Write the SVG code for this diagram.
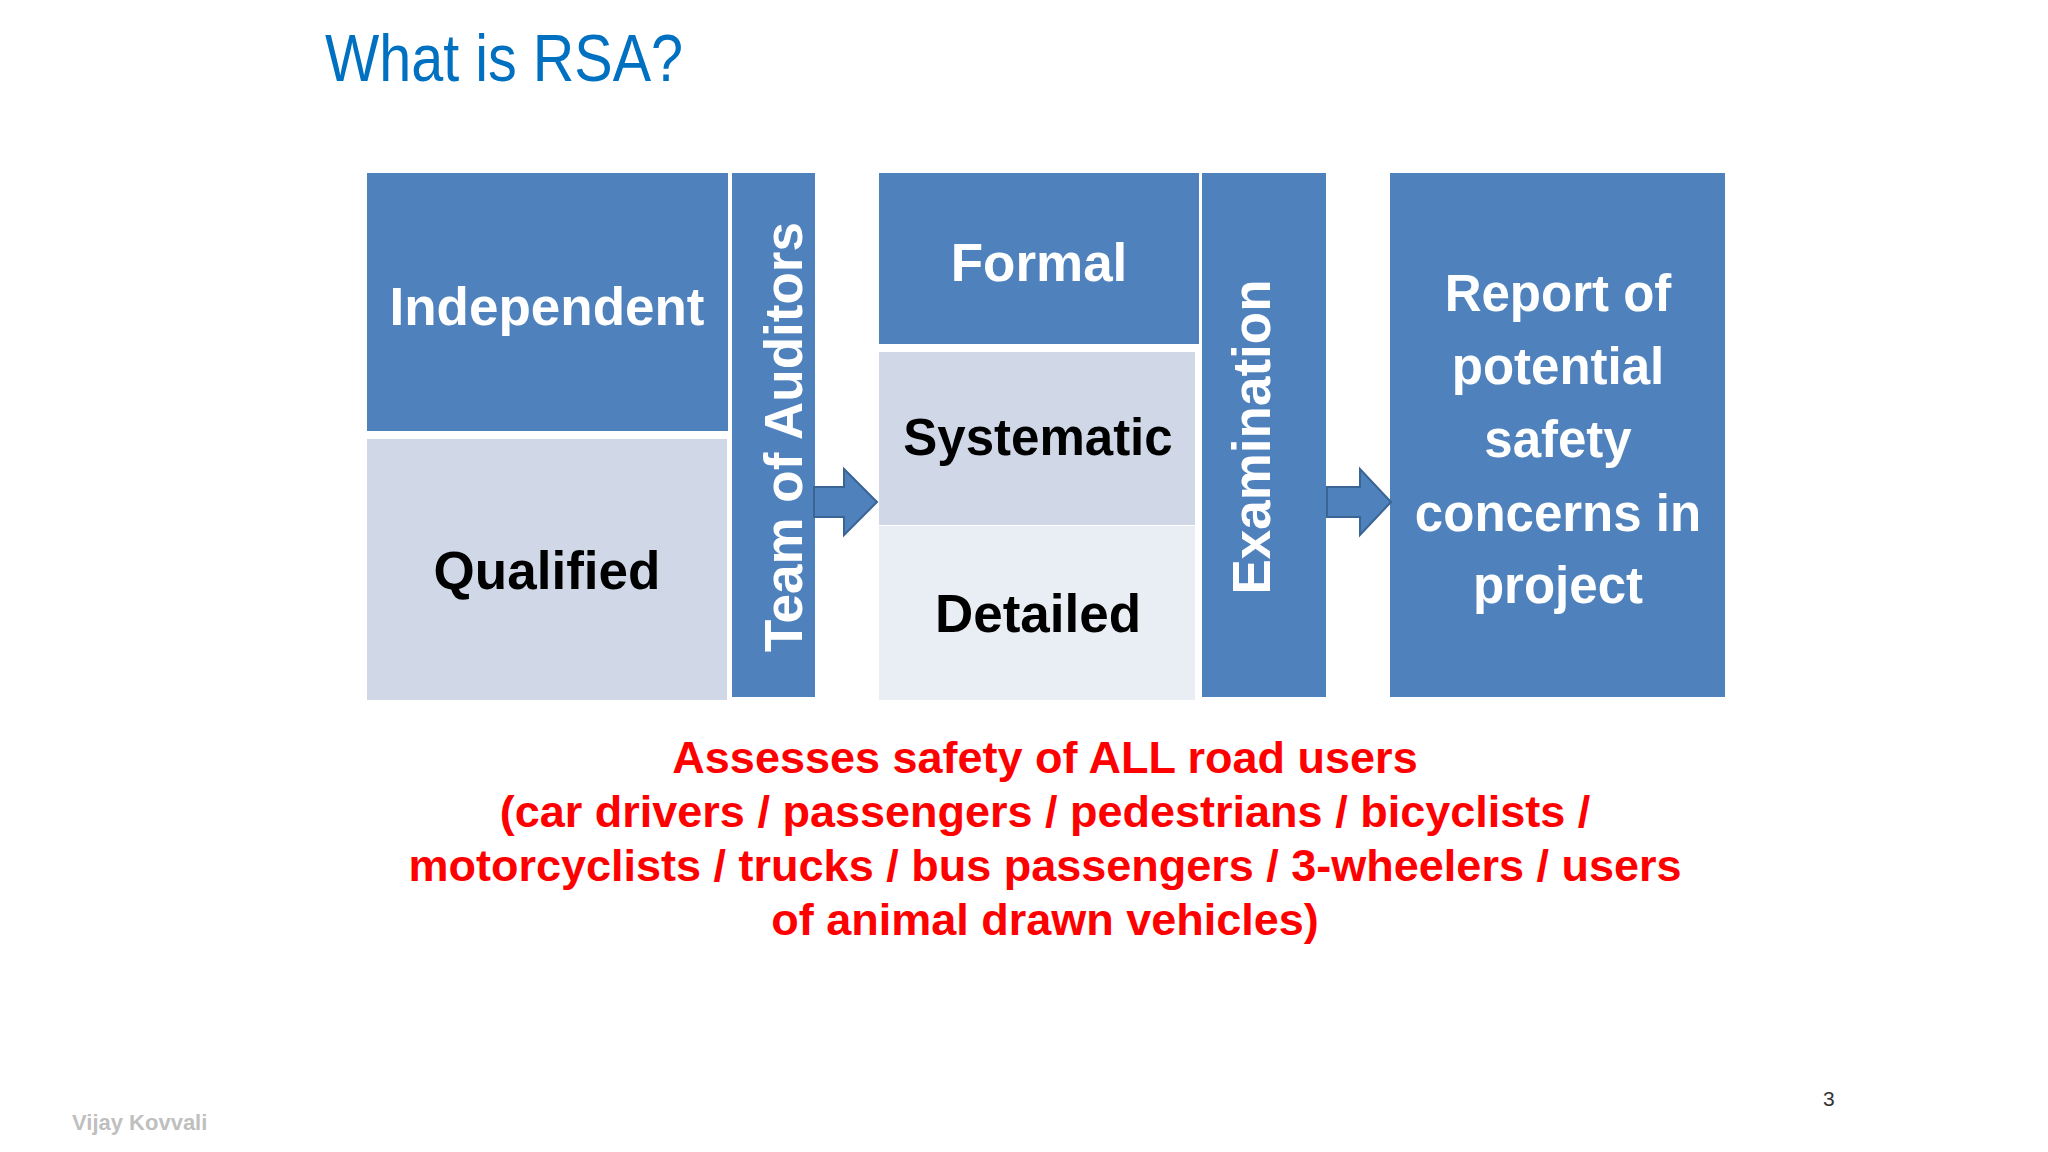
<svg xmlns="http://www.w3.org/2000/svg" width="2048" height="1152" viewBox="0 0 2048 1152">
  <style>
    .dark { fill: #4F81BD; }
    .light { fill: #D0D8E8; }
    .lighter { fill: #E9EDF4; }
    .lbl { font-family: "Liberation Sans", Arial, sans-serif; font-weight: bold; font-size: 53px; text-anchor: middle; }
    .sm { font-size: 51px; }
    .w { fill: #FFFFFF; }
    .k { fill: #000000; }
    .arrow { fill: #4F81BD; stroke: #3A6493; stroke-width: 2; stroke-linejoin: miter; }
    .red { font-family: "Liberation Sans", Arial, sans-serif; font-weight: bold; font-size: 45px; fill: #FF0000; text-anchor: middle; }
  </style>
  <rect x="0" y="0" width="2048" height="1152" fill="#FFFFFF"/>

  <text id="title" x="325" y="81" font-family="'Liberation Sans', Arial, sans-serif" font-size="67" fill="#0070C0" textLength="358" lengthAdjust="spacingAndGlyphs">What is RSA?</text>

  <g id="independent">
    <rect class="dark" x="367" y="173" width="361" height="258"/>
    <text class="lbl w" x="547" y="325">Independent</text>
  </g>
  <g id="qualified">
    <rect class="light" x="367" y="439" width="360" height="261"/>
    <text class="lbl k" x="547" y="589">Qualified</text>
  </g>
  <g id="team">
    <rect class="dark" x="732" y="173" width="83" height="524"/>
    <text class="lbl w" transform="translate(802,437) rotate(-90)">Team of Auditors</text>
  </g>
  <g id="formal">
    <rect class="dark" x="879" y="173" width="320" height="171"/>
    <text class="lbl w" x="1039" y="281">Formal</text>
  </g>
  <g id="systematic">
    <rect class="light" x="879" y="352" width="316" height="173"/>
    <text class="lbl sm k" x="1038" y="455">Systematic</text>
  </g>
  <g id="detailed">
    <rect class="lighter" x="879" y="526" width="316" height="174"/>
    <text class="lbl k" x="1038" y="632">Detailed</text>
  </g>
  <g id="examination">
    <rect class="dark" x="1202" y="173" width="124" height="524"/>
    <text class="lbl w" transform="translate(1270,437) rotate(-90)">Examination</text>
  </g>
  <g id="report">
    <rect class="dark" x="1390" y="173" width="335" height="524"/>
    <text class="lbl sm w" x="1558" y="311">Report of</text>
    <text class="lbl sm w" x="1558" y="384">potential</text>
    <text class="lbl sm w" x="1558" y="457">safety</text>
    <text class="lbl sm w" x="1558" y="531">concerns in</text>
    <text class="lbl sm w" x="1558" y="603">project</text>
  </g>

  <g id="connectors">
    <polygon class="arrow" points="814,487 844,487 844,469 877,502 844,535 844,517 814,517"/>
    <polygon class="arrow" points="1327,487 1360,487 1360,469 1391,502 1360,535 1360,517 1327,517"/>
  </g>

  <g id="note">
    <text class="red" x="1045" y="773">Assesses safety of ALL road users</text>
    <text class="red" x="1045" y="827">(car drivers / passengers / pedestrians / bicyclists /</text>
    <text class="red" x="1045" y="881">motorcyclists / trucks / bus passengers / 3-wheelers / users</text>
    <text class="red" x="1045" y="935">of animal drawn vehicles)</text>
  </g>

  <text id="author" x="72" y="1130" font-family="'Liberation Sans', Arial, sans-serif" font-weight="bold" font-size="22" fill="#BFBFBF">Vijay Kovvali</text>
  <text id="page" x="1823" y="1106" font-family="'Liberation Sans', Arial, sans-serif" font-size="21" fill="#333333">3</text>
</svg>
